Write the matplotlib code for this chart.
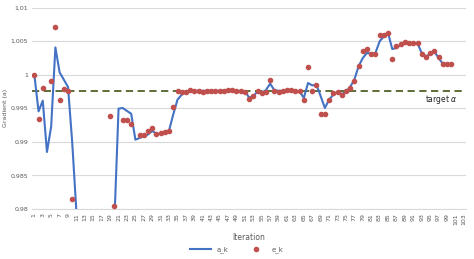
import numpy as np
import matplotlib
matplotlib.use("Agg")
import matplotlib.pyplot as plt

nan = np.nan
# iterations 1..103 (category axis), data ends at 100
iterations = np.arange(1, 104)

# a_k line (values below 0.98 fall outside the visible range)
a_k = [1.0000, 0.99454, 0.99613, 0.98849, 0.99230, 1.00406, 1.00034, 0.99926, 0.99817, 0.98988,
       0.97950, 0.97000, 0.97000, 0.97000, 0.97000, 0.97000, 0.97000, 0.97000, 0.97000, 0.97800,
       0.99494, 0.99504, 0.99460, 0.99419, 0.99032, 0.99058, 0.99081, 0.99110, 0.99162, 0.99120,
       0.99120, 0.99140, 0.99170, 0.99410, 0.99628, 0.99702, 0.99737, 0.99766, 0.99760, 0.99760,
       0.99760, 0.99760, 0.99760, 0.99760, 0.99760, 0.99760, 0.99760, 0.99760, 0.99760, 0.99760,
       0.99755, 0.99660, 0.99680, 0.99750, 0.99730, 0.99770, 0.99866, 0.99770, 0.99760, 0.99760,
       0.99770, 0.99770, 0.99760, 0.99750, 0.99653, 0.99876, 0.99840, 0.99851, 0.99680, 0.99504,
       0.99628, 0.99702, 0.99737, 0.99712, 0.99742, 0.99817, 0.99926, 1.00124, 1.00248, 1.00323,
       1.00313, 1.00323, 1.00496, 1.00570, 1.00620, 1.00382, 1.00397, 1.00447, 1.00481, 1.00472,
       1.00466, 1.00466, 1.00323, 1.00273, 1.00308, 1.00347, 1.00248, 1.00164, 1.00159, 1.00159,
       nan, nan, nan]

# e_k points
e_k = [1.0000, 0.99345, 0.99802, nan, 0.99910, 1.00704, 0.99623, 0.99787, 0.99762, 0.98154,
       nan, nan, nan, nan, nan, nan, nan, nan, 0.99390, 0.98040,
       nan, 0.99320, 0.99320, 0.99266, nan, 0.99102, 0.99102, 0.99162, 0.99206, 0.99117,
       0.99126, 0.99151, 0.99166, 0.99519, 0.99762, 0.99747, 0.99742, 0.99777, 0.99762, 0.99752,
       0.99747, 0.99757, 0.99762, 0.99762, 0.99762, 0.99762, 0.99767, 0.99767, 0.99762, 0.99757,
       0.99742, 0.99632, 0.99677, 0.99751, 0.99728, 0.99747, 0.99926, 0.99751, 0.99747, 0.99751,
       0.99777, 0.99772, 0.99762, 0.99760, 0.99617, 1.00109, 0.99751, 0.99851, 0.99419, 0.99419,
       0.99628, 0.99728, 0.99737, 0.99702, 0.99751, 0.99806, 0.99910, 1.00130, 1.00347, 1.00383,
       1.00308, 1.00313, 1.00585, 1.00585, 1.00620, 1.00238, 1.00421, 1.00457, 1.00487, 1.00472,
       1.00472, 1.00466, 1.00313, 1.00263, 1.00323, 1.00347, 1.00263, 1.00159, 1.00159, 1.00159,
       nan, nan, nan]

target_alpha = 0.99762
y_ticks = [0.98, 0.985, 0.99, 0.995, 1.0, 1.005, 1.01]
y_tick_labels = ["0,98", "0,985", "0,99", "0,995", "1", "1,005", "1,01"]

fig = plt.figure(figsize=(4.74, 2.59), dpi=100)
ax = fig.add_axes([0.068, 0.193, 0.915, 0.778])

ax.plot(iterations, a_k, color="#4472C4", lw=1.5, label="a_k", zorder=3)
ax.plot(iterations, e_k, "o", color="#C0504D", ms=3, mec="#C0504D", label="e_k", zorder=4)
ax.axhline(target_alpha, color="#4F6228", ls=(0, (4, 2.5)), lw=1.3, zorder=2)
ax.text(101.5, target_alpha - 0.0003, r"target $\alpha$", fontsize=5.5, ha="right", va="top",
        color="#222222")

ax.set_xlim(0.5, 103.5)
ax.set_ylim(0.98, 1.01)
ax.set_yticks(y_ticks)
ax.set_yticklabels(y_tick_labels)
ax.set_xticks(iterations[::2])
ax.set_xticklabels([str(i) for i in iterations[::2]], rotation=90)
ax.tick_params(axis="both", length=0, labelsize=4.5, colors="#595959", pad=3)
ax.grid(axis="y", color="#D9D9D9", lw=0.8)
ax.set_axisbelow(True)
for s in ["top", "right", "left"]:
    ax.spines[s].set_visible(False)
ax.spines["bottom"].set_color("#D9D9D9")

ax.set_xlabel("Iteration", fontsize=5.5, color="#595959", labelpad=6)
ax.set_ylabel("Gradient (a)", fontsize=4.5, color="#595959", labelpad=1.5)

fig.legend(loc="lower center", bbox_to_anchor=(0.5, 0.0), ncol=2, frameon=False,
           fontsize=5, labelcolor="#595959", handlelength=3, columnspacing=2.5)

fig.savefig("out.png", dpi=100)
